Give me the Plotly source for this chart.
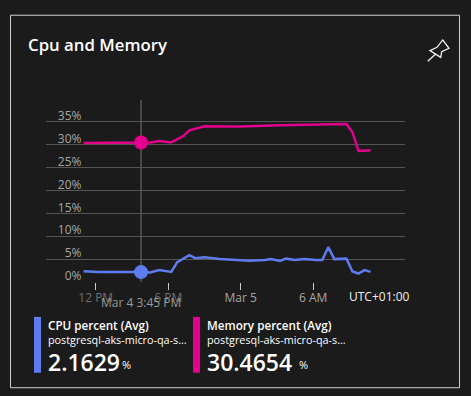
import plotly.graph_objects as go

mem_times = ["2024-03-04 11:00", "2024-03-04 15:45", "2024-03-04 16:30", "2024-03-04 17:15", "2024-03-04 18:15",
             "2024-03-04 19:15", "2024-03-04 19:45", "2024-03-04 21:00", "2024-03-05 00:00", "2024-03-05 03:15",
             "2024-03-05 08:45", "2024-03-05 09:15", "2024-03-05 09:45", "2024-03-05 10:45"]
mem_vals = [30.33, 30.47, 30.47, 30.77, 30.47, 31.86, 33.1, 34.0, 33.95, 34.2, 34.5, 32.7, 28.6, 28.75]

cpu_times = ["2024-03-04 11:00", "2024-03-04 12:15", "2024-03-04 15:45", "2024-03-04 16:30", "2024-03-04 17:15",
             "2024-03-04 18:15", "2024-03-04 18:45", "2024-03-04 19:45", "2024-03-04 20:15", "2024-03-04 21:00",
             "2024-03-04 22:15", "2024-03-05 00:00", "2024-03-05 00:45", "2024-03-05 02:00", "2024-03-05 02:30",
             "2024-03-05 03:15", "2024-03-05 03:45", "2024-03-05 04:30", "2024-03-05 05:15", "2024-03-05 06:15",
             "2024-03-05 06:45", "2024-03-05 07:15", "2024-03-05 07:45", "2024-03-05 08:45", "2024-03-05 09:15",
             "2024-03-05 09:45", "2024-03-05 10:15", "2024-03-05 10:45"]
cpu_vals = [2.33, 2.18, 2.16, 2.07, 2.6, 2.2, 4.35, 5.88, 5.2, 5.4, 5.0, 4.8, 4.64, 4.8, 5.0, 4.6, 5.1, 4.8, 5.0,
            4.8, 4.8, 7.6, 5.0, 5.1, 2.3, 1.85, 2.6, 2.2]

y_ticks = [0, 5, 10, 15, 20, 25, 30, 35]
y_labels = ["0%", "5%", "10%", "15%", "20%", "25%", "30%", "35%"]
x_ticks = ["2024-03-04 12:00", "2024-03-04 18:00", "2024-03-05 00:00", "2024-03-05 06:00"]
DIM = "#6f6f6f"
x_labels = [f'<span style="color:{DIM}">12 PM</span>', f'<span style="color:{DIM}">6 PM</span>', "Mar 5", "6 AM"]
cursor_time = "2024-03-04 15:45"
cursor_label = "Mar 4 3:45 PM"
cursor_cpu = 2.1629
cursor_mem = 30.4654

BG = "#1b1b1b"
CPU = "#5e7cf0"
MEM = "#e3008c"
FONT = "Open Sans"
SEMI = "Open Sans SemiBold, Open Sans"
L, R, T, B = 46, 405, 99.5, 282


def px(x):
    return (x - L) / (R - L)


def py(y):
    return (B - y) / (B - T)


fig = go.Figure()
fig.add_trace(go.Scatter(x=cpu_times, y=cpu_vals, mode="lines", line=dict(color=CPU, width=2.5), showlegend=False))
fig.add_trace(go.Scatter(x=mem_times, y=mem_vals, mode="lines", line=dict(color=MEM, width=2.5), showlegend=False))
fig.add_trace(go.Scatter(x=[cursor_time], y=[cursor_cpu], mode="markers", marker=dict(color=CPU, size=14), showlegend=False))
fig.add_trace(go.Scatter(x=[cursor_time], y=[cursor_mem], mode="markers", marker=dict(color=MEM, size=14), showlegend=False))

shapes = [
    dict(type="line", xref="x", yref="paper", x0=cursor_time, x1=cursor_time, y0=0, y1=1,
         line=dict(color="#777777", width=1), layer="below"),
    dict(type="rect", xref="paper", yref="paper", x0=px(10.5), x1=px(459.5), y0=py(14.5), y1=py(388),
         line=dict(color="#cfcfcf", width=1)),
    dict(type="rect", xref="paper", yref="paper", x0=px(34), x1=px(41), y0=py(317), y1=py(373),
         fillcolor=CPU, line=dict(width=0)),
    dict(type="rect", xref="paper", yref="paper", x0=px(193), x1=px(200), y0=py(317), y1=py(373),
         fillcolor=MEM, line=dict(width=0)),
    dict(type="path", xref="paper", yref="paper",
         path=" ".join(f"{c} {px(a):.5f} {py(b):.5f}" for c, a, b in [
             ("M", 442.7, 39.3), ("L", 449, 47.7), ("L", 441.7, 51), ("L", 440.7, 56.7), ("L", 430, 50), ("L", 437, 46.7)]) + " Z",
         line=dict(color="#f2f2f2", width=1.3)),
    dict(type="line", xref="paper", yref="paper", x0=px(427.7), y0=py(60.7), x1=px(435.7), y1=py(53.3),
         line=dict(color="#f2f2f2", width=1.3)),
]


def text(x, y, s, size, color="#ffffff", anchor="left", family=FONT):
    return dict(xref="paper", yref="paper", x=px(x), y=py(y), text=s, showarrow=False, xanchor=anchor, yanchor="middle",
                font=dict(family=family, size=size, color=color), align=anchor)


annotations = [
    text(25.5, 43.5, "Cpu and Memory", 16.8, family=SEMI),
    text(140.5, 302.5, cursor_label, 12, color="#9a9a9a", anchor="center"),
    text(411.5, 297, "UTC+01:00", 12, color="#f0f0f0", anchor="right"),
    text(46, 325, "CPU percent (Avg)", 11.7, family=SEMI),
    text(46, 340, "postgresql-aks-micro-qa-s...", 10.8),
    text(46, 362, f"{cursor_cpu:.4f}", 23, family=SEMI),
    text(120, 365, "%", 11),
    text(205, 325, "Memory percent (Avg)", 11.7, family=SEMI),
    text(205, 340, "postgresql-aks-micro-qa-s...", 10.8),
    text(205, 362, f"{cursor_mem:.4f}", 23, family=SEMI),
    text(297, 365, "%", 11),
]

fig.update_layout(
    width=471, height=396,
    margin=dict(l=L, r=471 - R, t=T, b=396 - B),
    paper_bgcolor=BG, plot_bgcolor=BG,
    font=dict(family=FONT, color="#a6a6a6", size=12),
    shapes=shapes, annotations=annotations,
    xaxis=dict(range=["2024-03-04 07:53", "2024-03-05 13:36"], type="date", tickmode="array", tickvals=x_ticks,
               ticktext=x_labels, ticks="outside", ticklen=7, tickcolor="#cccccc", tickwidth=1, showgrid=False,
               zeroline=False, showline=False, ticklabelstandoff=-2, tickfont=dict(size=12, family=FONT, color="#a6a6a6")),
    yaxis=dict(range=[0, 39.74], tickmode="array", tickvals=y_ticks, ticktext=y_labels, anchor="free",
               position=px(81.5), ticklabelshift=-6, showgrid=True, gridcolor="#555555", gridwidth=1, zeroline=False,
               showline=False, ticks="", tickfont=dict(size=12, family=FONT, color="#a6a6a6")),
)

fig.write_html("out.html", config=dict(displayModeBar=False),
               post_script="document.body.style.margin='0';document.body.style.background='#1b1b1b';document.documentElement.style.overflow='hidden';")
